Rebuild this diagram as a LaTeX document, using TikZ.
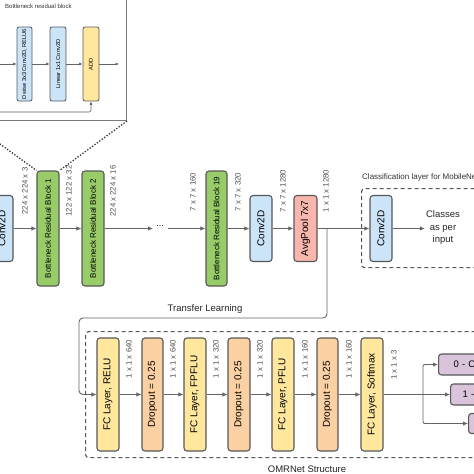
\documentclass[tikz,border=0pt]{standalone}
\usepackage{fontspec}
\setmainfont{Liberation Sans}
\usetikzlibrary{arrows.meta}
\definecolor{bluef}{RGB}{204,228,248}
\definecolor{greenf}{RGB}{152,204,104}
\definecolor{yellf}{RGB}{255,232,158}
\definecolor{orangef}{RGB}{251,208,162}
\definecolor{redf}{RGB}{248,182,172}
\definecolor{purpf}{RGB}{218,196,220}
\definecolor{edgec}{RGB}{88,88,88}
\definecolor{linec}{RGB}{100,100,100}
\definecolor{dimc}{RGB}{80,80,80}
\begin{document}
\begin{tikzpicture}[x=1pt,y=-1pt,
  blk/.style={draw=edgec, line width=1.1pt, rounded corners=3pt, inner sep=0pt, minimum width=22pt},
  tallblk/.style={blk, minimum height=115pt, font=\fontsize{8}{9}\selectfont},
  shortblk/.style={blk, minimum height=66pt, font=\fontsize{10}{12}\selectfont},
  omrblk/.style={blk, minimum height=113pt, font=\fontsize{10}{12}\selectfont},
  smallblk/.style={draw=edgec, line width=0.8pt, rounded corners=2pt, inner sep=0pt, minimum height=74pt, font=\fontsize{5.7}{7}\selectfont},
  dimlbl/.style={text=dimc, font=\fontsize{7.8}{9}\selectfont, rotate=90, inner sep=0pt},
  conn/.style={draw=linec, line width=0.9pt, -{Latex[length=5pt,width=4.5pt]}},
  sconn/.style={draw=linec, line width=0.6pt, -{Latex[length=3.5pt,width=3pt]}},
  plainln/.style={draw=linec, line width=0.9pt},
  dotln/.style={draw=black!80, line width=1.3pt, dash pattern=on 1.3pt off 1.7pt},
  dashbox/.style={draw=edgec, line width=1.2pt, dash pattern=on 4pt off 3pt, rounded corners=3pt, inner sep=0pt},
  purpbox/.style={draw=edgec, line width=1.1pt, rounded corners=3pt, fill=purpf, anchor=west, inner ysep=0pt, minimum height=21pt, text width=45pt, align=left, font=\fontsize{9.5}{11}\selectfont},
  txt/.style={font=\fontsize{9.5}{11}\selectfont, text=black!85}
]
\useasboundingbox (0,0) rectangle (474,474);
\clip (0,0) rectangle (474,474);
\fill[white] (0,0) rectangle (474,474);

% ---------- bottleneck residual block (inset) ----------
\node[draw=edgec!80, line width=0.8pt, fill=white, minimum width=158pt, minimum height=126pt, inner sep=0pt, anchor=south east] (bbox) at (127,121) {};
\node[anchor=west, inner sep=0pt, font=\fontsize{6}{7}\selectfont, text=black!80] (btitle) at (5,6) {Bottleneck residual block};
\node[smallblk, fill=bluef, minimum width=15pt] (d1) at (24.5,64) {\rotatebox{90}{Dwise 3x3 Conv2D, RELU6}};
\node[smallblk, fill=bluef, minimum width=16pt] (d2) at (58,64) {\rotatebox{90}{Linear 1x1 Conv2D}};
\node[smallblk, fill=yellf, minimum width=16pt] (add) at (91,64) {\rotatebox{90}{ADD}};
\coordinate (in1) at (-5,64);
\coordinate (out1) at (119,64);
\coordinate (sk) at (-5,112);
\draw[sconn] (in1) -- (d1);
\draw[sconn] (d1) -- (d2);
\draw[sconn] (d2) -- (add);
\draw[sconn] (add) -- (out1);
\draw[sconn, rounded corners=2pt] (sk) -| (add.south);

% ---------- MobileNet backbone ----------
\node[shortblk, fill=bluef] (c0) at (2,228.5) {\rotatebox{90}{Conv2D}};
\node[tallblk, fill=greenf] (b1) at (48,228.5) {\rotatebox{90}{Bottleneck Residual Block 1}};
\node[tallblk, fill=greenf] (b2) at (93,228.5) {\rotatebox{90}{Bottleneck Residual Block 2}};
\node[inner sep=0pt, font=\fontsize{9}{10}\selectfont] (dots) at (160,226.5) {...};
\node[tallblk, fill=greenf, minimum width=21pt] (b19) at (216.5,228.5) {\rotatebox{90}{Bottleneck Residual Block 19}};
\node[shortblk, fill=bluef] (c1) at (261,228.5) {\rotatebox{90}{Conv2D}};
\node[shortblk, fill=redf, minimum width=23pt] (avg) at (305.5,228.5) {\rotatebox{90}{AvgPool 7x7}};

\draw[dotln] (bbox.south west) -- (b1.north west);
\draw[dotln] (bbox.south east) -- (b1.north east);

\node[dimlbl] (l1) at (25,191) {224 x 224 x 3};
\node[dimlbl] (l2) at (69,191) {122 x 122 x 32};
\node[dimlbl] (l3) at (113,191) {224 x 224 x 16};
\node[dimlbl] (l4) at (193,192) {7 x 7 x 160};
\node[dimlbl] (l5) at (238,192) {7 x 7 x 320};
\node[dimlbl] (l6) at (283,191) {7 x 7 x 1280};
\node[dimlbl] (l7) at (326,191) {1 x 1 x 1280};

\draw[conn] (c0) -- (b1);
\draw[conn] (b1) -- (b2);
\draw[conn] (b2.east) -- ([xshift=-3pt]dots.west |- b2.east);
\draw[conn] ([xshift=4pt]dots.east |- b19.west) -- (b19.west);
\draw[conn] (b19) -- (c1);
\draw[conn] (c1) -- (avg);

% ---------- classification layer ----------
\node[dashbox, minimum width=130pt, minimum height=79pt, anchor=north west] (clsbox) at (361,188) {};
\node[anchor=west, inner sep=0pt, font=\fontsize{8}{9}\selectfont, text=black!80] (clstitle) at (362,177) {Classification layer for MobileNet};
\node[shortblk, fill=bluef] (c2) at (381,228.5) {\rotatebox{90}{Conv2D}};
\node[txt, align=center, inner sep=0pt, font=\fontsize{9.5}{12.5}\selectfont] (cls) at (443,228) {Classes\\as per\\input};
\coordinate (j) at (327,228.5);
\draw[conn] (avg) -- (c2);
\draw[conn] (c2.east) -- ([xshift=-1pt]cls.west |- c2.east);

% ---------- transfer learning ----------
\node[txt] (tl) at (205,309) {Transfer Learning};
\coordinate (tcorner) at (79,318);

% ---------- OMRNet ----------
\node[dashbox, minimum width=400pt, minimum height=126pt, anchor=north west] (omrbox) at (85,331) {};
\node[txt] (omrtitle) at (307,469) {OMRNet Structure};

\node[omrblk, fill=yellf] (fc1) at (108,394.5) {\rotatebox{90}{FC Layer, RELU}};
\node[omrblk, fill=orangef, minimum width=21pt] (dr1) at (152.5,394.5) {\rotatebox{90}{Dropout = 0.25}};
\node[omrblk, fill=yellf] (fc2) at (195,394.5) {\rotatebox{90}{FC Layer, FPFLU}};
\node[omrblk, fill=orangef] (dr2) at (239,394.5) {\rotatebox{90}{Dropout = 0.25}};
\node[omrblk, fill=yellf] (fc3) at (283,394.5) {\rotatebox{90}{FC Layer, PFLU}};
\node[omrblk, fill=orangef, minimum width=21pt] (dr3) at (327.5,394.5) {\rotatebox{90}{Dropout = 0.25}};
\node[omrblk, fill=yellf] (fc4) at (372,394.5) {\rotatebox{90}{FC Layer, Softmax}};

\draw[conn, rounded corners=4pt] (j) |- (tcorner) |- (fc1.west);

\node[dimlbl] (m1) at (129,359) {1 x 1 x 640};
\node[dimlbl] (m2) at (173,359) {1 x 1 x 640};
\node[dimlbl] (m3) at (216,359) {1 x 1 x 320};
\node[dimlbl] (m4) at (260,359) {1 x 1 x 320};
\node[dimlbl] (m5) at (305,359) {1 x 1 x 160};
\node[dimlbl] (m6) at (349,359) {1 x 1 x 160};
\node[dimlbl] (m7) at (394,365) {1 x 1 x 3};

\draw[conn] (fc1) -- (dr1);
\draw[conn] (dr1) -- (fc2);
\draw[conn] (fc2) -- (dr2);
\draw[conn] (dr2) -- (fc3);
\draw[conn] (fc3) -- (dr3);
\draw[conn] (dr3) -- (fc4);

\node[purpbox, inner xsep=15pt] (p0) at (438,364.5) {0 - C};
\node[purpbox, inner xsep=12pt] (p1) at (450,394.5) {1 -};
\node[purpbox, inner xsep=12pt, minimum height=20pt] (p2) at (468,423.5) {};
\coordinate (k) at (423,394.5);
\draw[conn] (fc4) -- (p1);
\draw[conn, rounded corners=2pt] (k) |- (p0.west);
\draw[conn, rounded corners=2pt] (k) |- (p2.west);
\end{tikzpicture}
\end{document}
